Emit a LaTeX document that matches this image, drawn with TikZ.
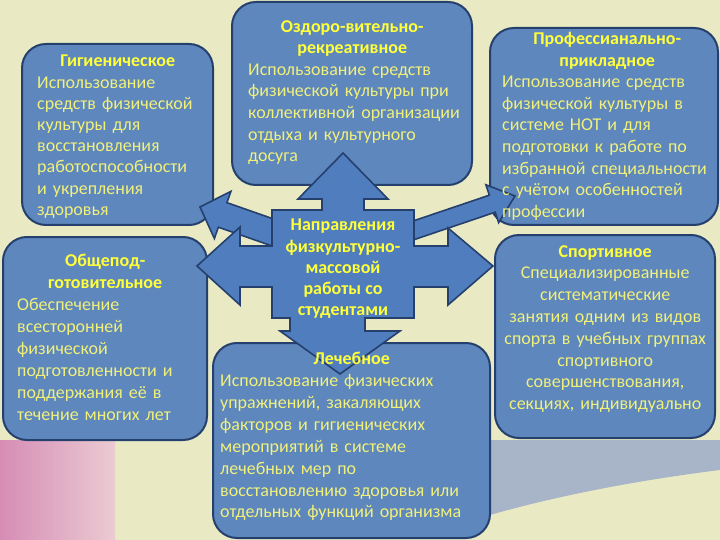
\documentclass[tikz,border=0pt]{standalone}
\usepackage{fontspec}
\setmainfont{Carlito}
\usetikzlibrary{calc}
\definecolor{bgc}{HTML}{E9EAC4}
\definecolor{boxfill}{HTML}{5480BD}
\definecolor{boxline}{HTML}{26406E}
\definecolor{arrfill}{HTML}{4F7DBE}
\definecolor{ttl}{HTML}{FFFF3A}
\definecolor{bdy}{HTML}{F0F07A}
\definecolor{pinkA}{HTML}{D68DB5}
\definecolor{pinkB}{HTML}{EBCBD2}
\definecolor{greyblue}{HTML}{A8B4C8}
\tikzset{
  box/.style={draw=boxline, line width=2pt, fill=boxfill, fill opacity=0.93, rounded corners=24pt, inner sep=0pt},
  arr/.style={draw=boxline, line width=1.6pt, fill=arrfill, line join=miter},
  txt/.style={inner sep=0pt, font=\fontsize{18}{21.6}\selectfont, text=bdy, align=left, anchor=north west},
  ctxt/.style={inner sep=0pt, font=\fontsize{18}{21.2}\selectfont\bfseries, text=ttl, align=center, anchor=north},
}
\newcommand{\ttlline}[1]{{\centering\bfseries\color{ttl}#1\par}}
\begin{document}
\begin{tikzpicture}[x=1pt,y=-1pt]
\useasboundingbox (0,0) rectangle (720,540);
% background
\fill[bgc] (0,0) rectangle (720,540);
\shade[left color=pinkA, right color=pinkB] (0,440) rectangle (115,540);
\fill[greyblue] (490,440) -- (720,440) -- (720,470) .. controls (640,480) and (560,495) .. (490,515) -- cycle;
% boxes
\node[box, minimum width=191pt, minimum height=181pt] (hyg) at (117.5,134.5) {};
\node[box, minimum width=240pt, minimum height=183pt] (ozd) at (352,93.5) {};
\node[box, minimum width=228pt, minimum height=197pt] (prof) at (604,126.5) {};
\node[box, minimum width=204pt, minimum height=203pt] (obsh) at (105,338.5) {};
\node[box, minimum width=277pt, minimum height=195pt] (lech) at (351.5,440.5) {};
\node[box, minimum width=220pt, minimum height=203pt] (sport) at (605,336.5) {};
% diagonal arrows
\coordinate (ulS) at (300,242);
\coordinate (ulT) at (200,207);
\coordinate (urS) at (385,240);
\coordinate (urT) at (515,196);
\foreach \S/\T/\sw/\hw/\hl in {ulS/ulT/13/25/24, urS/urT/9/20/24}{
  \coordinate (H) at ($(\T)!\hl pt!(\S)$);
  \draw[arr] ($(\S)!\sw pt!90:(\T)$) -- ($(H)!\sw pt!90:(\T)$) -- ($(H)!\hw pt!90:(\T)$) -- (\T)
    -- ($(H)!\hw pt!-90:(\T)$) -- ($(H)!\sw pt!-90:(\T)$) -- ($(\S)!\sw pt!-90:(\T)$) -- cycle;
}
% cross arrow
\draw[arr] (272,210) -- (322,210) -- (322,199) -- (298,199) -- (343,153) -- (388,199) -- (364,199) -- (364,210)
  -- (414,210) -- (414,246) -- (448,246) -- (448,228) -- (493,266) -- (448,305) -- (448,287) -- (414,287)
  -- (414,318) -- (365,318) -- (365,331) -- (400,331) -- (340,374) -- (280,331) -- (290,331) -- (290,318)
  -- (272,318) -- (272,287) -- (240,287) -- (240,305) -- (197,266) -- (240,227) -- (240,246) -- (272,246) -- cycle;
\coordinate (cross) at (343,264);
% texts
\node[txt, text width=161pt, font=\fontsize{18}{21.2}\selectfont] (hygt) at (37,55) {\ttlline{Гигиеническое}\raggedright Использование\\средств физической\\культуры для\\восстановления\\работоспособности\\и укрепления\\здоровья};
\node[txt, text width=208pt] (ozdt) at (248,20) {\ttlline{Оздоро-вительно-}\ttlline{рекреативное}\raggedright Использование средств\\физической культуры при\\\mbox{коллективной организации}\\отдыха и культурного\\досуга};
\node[txt, text width=210pt] (proft) at (502,32) {\ttlline{Профессианально-}\ttlline{прикладное}\raggedright Использование средств\\физической культуры в\\системе НОТ и для\\подготовки к работе по\\\mbox{избранной специальности}\\с учётом особенностей\\профессии};
\node[txt, text width=176pt, font=\fontsize{18}{22}\selectfont] (obsht) at (17,254) {\ttlline{Общепод-}\ttlline{готовительное}\raggedright Обеспечение\\всесторонней\\физической\\подготовленности и\\поддержания её в\\течение многих лет};
\node[txt, text width=263pt, font=\fontsize{18}{21.9}\selectfont] (lecht) at (220,352) {\ttlline{Лечебное}\raggedright Использование физических\\упражнений, закаляющих\\факторов и гигиенических\\мероприятий в системе\\лечебных мер по\\\mbox{восстановлению здоровья или}\\\mbox{отдельных функций организма}};
\node[txt, text width=206pt, align=center, font=\fontsize{18}{21.8}\selectfont] (sportt) at (502,245) {\ttlline{Спортивное}Специализированные\\систематические\\занятия одним из видов\\\mbox{спорта в учебных группах}\\спортивного\\совершенствования,\\\mbox{секциях, индивидуально}};
\node[ctxt] (crosst) at (343,219) {Направления\\физкультурно-\\массовой\\работы со\\студентами};
\end{tikzpicture}
\end{document}
